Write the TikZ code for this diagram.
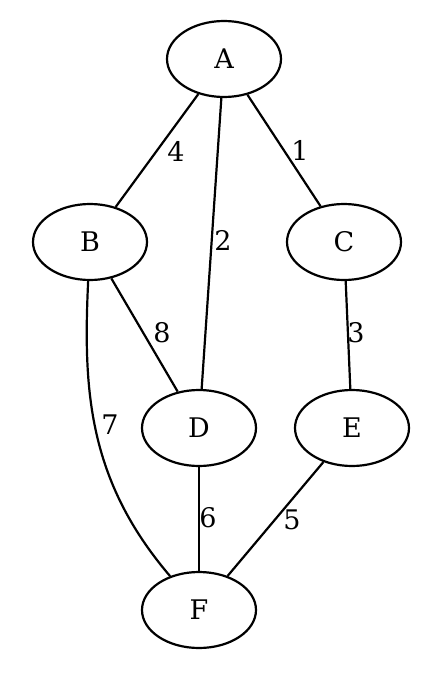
\documentclass[tikz,border=0pt]{standalone}
\usepackage{fontspec}
\setmainfont{DejaVu Serif}
\usetikzlibrary{shapes.geometric}
\newcommand{\bigtxt}{\fontsize{27pt}{31pt}\selectfont}
\begin{document}
\begin{tikzpicture}[x=1pt,y=-1pt,
  nd/.style={draw,shape=ellipse,line width=2.2pt,minimum width=114pt,minimum height=76pt,inner sep=0pt,font=\bigtxt},
  ed/.style={line width=2.2pt},
  lb/.style={font=\bigtxt,inner sep=0pt}]
\useasboundingbox (0,0) rectangle (441,682);
\node[nd] (A) at (224,59) {\bigtxt A};
\node[nd] (B) at (90,242) {\bigtxt B};
\node[nd] (C) at (344,242) {\bigtxt C};
\node[nd] (D) at (199,428) {\bigtxt D};
\node[nd] (E) at (352,428) {\bigtxt E};
\node[nd] (F) at (199,610) {\bigtxt F};
\draw[ed] (A) -- (B);
\draw[ed] (A) -- (C);
\draw[ed] (A) -- (D);
\draw[ed] (B) -- (D);
\draw[ed] (C) -- (E);
\draw[ed] (D) -- (F);
\draw[ed] (E) -- (F);
\draw[ed] (B) .. controls (83,390) and (88,480) .. (F);
\node[lb] (l4) at (176,151) {4};
\node[lb] (l1) at (300,150) {1};
\node[lb] (l2) at (223,240) {2};
\node[lb] (l8) at (162,333) {8};
\node[lb] (l3) at (356,333) {3};
\node[lb] (l7) at (110,425) {7};
\node[lb] (l6) at (208,518) {6};
\node[lb] (l5) at (292,520) {5};
\end{tikzpicture}
\end{document}
